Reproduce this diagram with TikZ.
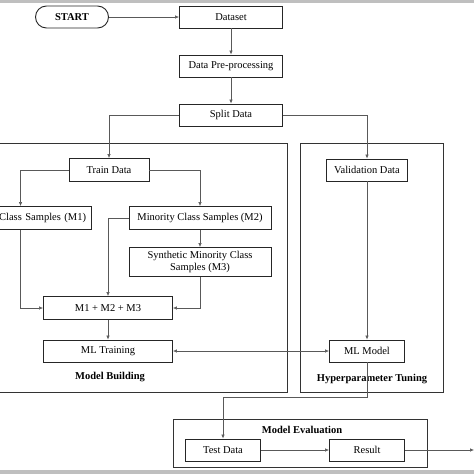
\documentclass[tikz,border=0pt]{standalone}
\usepackage{fontspec}
\setmainfont{Liberation Serif}
\usetikzlibrary{arrows.meta}
\begin{document}
\begin{tikzpicture}[x=1pt,y=-1pt,font=\fontsize{10.5}{12}\selectfont,
box/.style={draw=black!85,line width=0.9pt,minimum height=22pt,inner sep=2pt},
frame/.style={draw=black!80,line width=0.9pt},
arr/.style={draw=black!65,line width=0.6pt,>={Latex[length=4pt,width=3.5pt]},->},
lbl/.style={font=\fontsize{10.5}{12}\selectfont\bfseries}]
\useasboundingbox(0,0)rectangle(474,474);
\fill[black!25](0,0)rectangle(474,2.5);
\fill[black!25](0,470)rectangle(474,474);
% frames
\draw[frame](-3,143)rectangle(287,392);
\draw[frame](300,143)rectangle(443,392);
\draw[frame](173,419)rectangle(427,467);
% boxes
\node[box,rounded corners=11pt,minimum width=73pt,font=\fontsize{10.5}{12}\selectfont\bfseries](start)at(72,17){START};
\node[box,minimum width=103pt](ds)at(231,17){Dataset};
\node[box,minimum width=103pt](pre)at(231,66){Data Pre-processing};
\node[box,minimum width=103pt](split)at(231,115){Split Data};
\node[box,minimum width=80pt,minimum height=23pt](train)at(109,170){Train Data};
\node[box,minimum width=142pt,minimum height=23pt,text width=131pt,align=right,anchor=east](maj)at(92,218){Class Samples (M1)};
\node[box,minimum width=142pt,minimum height=23pt](min)at(200,218){Minority Class Samples (M2)};
\node[box,minimum width=142pt,minimum height=29pt,align=center](syn)at(200,262){Synthetic Minority Class\\Samples (M3)};
\node[box,minimum width=129pt,minimum height=23pt](sum)at(108,308){M1 + M2 + M3};
\node[box,minimum width=129pt](mlt)at(108,351){ML Training};
\node[box,minimum width=81pt](val)at(367,170){Validation Data};
\node[box,minimum width=75pt](mlm)at(367,351){ML Model};
\node[box,minimum width=75pt](test)at(223,450){Test Data};
\node[box,minimum width=75pt](res)at(367,450){Result};
% frame labels
\node[lbl](mb)at(110,377){Model Building};
\node[lbl](ht)at(372,379){Hyperparameter Tuning};
\node[lbl](me)at(302,430){Model Evaluation};
% connectors
\draw[arr](start)--(ds);
\draw[arr](ds)--(pre);
\draw[arr](pre)--(split);
\draw[arr](split.west)-|(train.north);
\draw[arr](split.east)-|(val.north);
\draw[arr](train.west)-|(maj.north);
\draw[arr](train.east)-|(min.north);
\draw[arr](min)--(syn);
\draw[arr](maj.south)|-(sum.west);
\draw[arr](min.west)-|(sum.north);
\draw[arr](syn.south)|-(sum.east);
\draw[arr](sum)--(mlt);
\draw[arr](val)--(mlm);
\draw[arr,<->](mlt)--(mlm);
\draw[arr](mlm.south)--++(0,35)-|(test.north);
\draw[arr](test)--(res);
\coordinate(out)at(474,450);
\draw[arr](res)--(out);
\end{tikzpicture}
\end{document}
